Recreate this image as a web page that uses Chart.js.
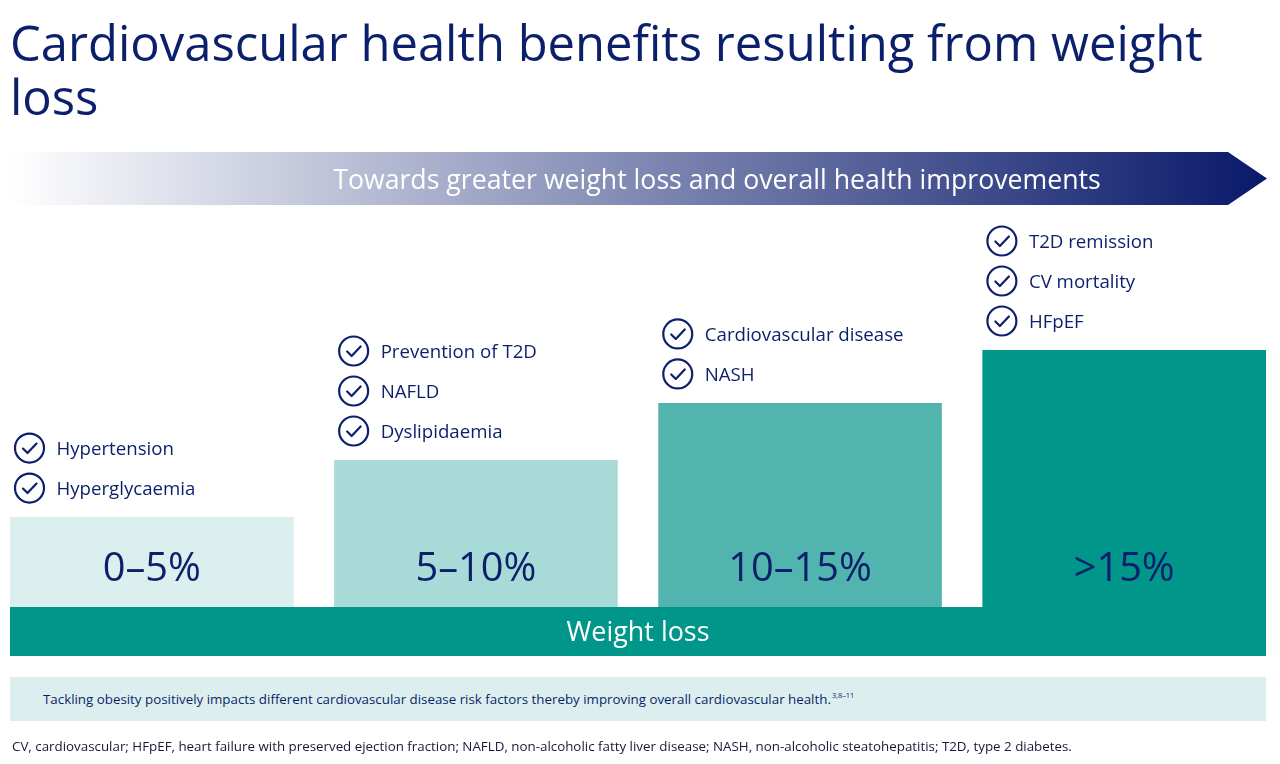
<!DOCTYPE html>
<html>
<head>
<meta charset="utf-8">
<script src="https://cdn.jsdelivr.net/npm/chart.js@4.4.0/dist/chart.umd.min.js"></script>
<style>
  html, body { margin: 0; padding: 0; background: #fff; }
  body { width: 1280px; height: 764px; position: relative; overflow: hidden; font-family: 'Open Sans', sans-serif; color: #0b1f6b; }
  #chart { position: absolute; left: 0; top: 0; }
  .line { position: absolute; margin: 0; white-space: nowrap; font-weight: 400; }
  .note { position: absolute; left: 10px; top: 677px; width: 1256px; height: 44px; background: #dcefee; }
  .note sup { font-size: 0.55em; vertical-align: 0.75em; line-height: 0; margin-left: 1px; }
  #foot { color: #17193b; }
</style>
</head>
<body>
<h1 class="line" id="title1"></h1>
<h1 class="line" id="title2"></h1>
<canvas id="chart" width="1280" height="764"></canvas>
<div class="note"><p class="line" id="note"></p></div>
<p class="line" id="foot"></p>
<script>
// Data
const categories = ['0–5%', '5–10%', '10–15%', '>15%'];
const barHeights = [35, 57.2, 79.4, 100];
const benefitsLow = ['Hypertension', 'Hyperglycaemia'];
const benefitsMid = ['Prevention of T2D', 'NAFLD', 'Dyslipidaemia'];
const benefitsHigh = ['Cardiovascular disease', 'NASH'];
const benefitsTop = ['T2D remission', 'CV mortality', 'HFpEF'];
const benefits = [benefitsLow, benefitsMid, benefitsHigh, benefitsTop];

const titleLines = ['Cardiovascular health benefits resulting from weight', 'loss'];
const arrowText = 'Towards greater weight loss and overall health improvements';
const axisText = 'Weight loss';
const noteText = 'Tackling obesity positively impacts different cardiovascular disease risk factors thereby improving overall cardiovascular health.';
const noteRefs = '3,8–11';
const footText = 'CV, cardiovascular; HFpEF, heart failure with preserved ejection fraction; NAFLD, non-alcoholic fatty liver disease; NASH, non-alcoholic steatohepatitis; T2D, type 2 diabetes.';

// Colours
const navy = '#0b1f6b';
const barColors = ['#daefee', '#a8dbd8', '#52b4ae', '#00968a'];
const bandColor = '#00968a';

const FONT = "'Open Sans', sans-serif";
const measureCtx = document.createElement('canvas').getContext('2d');

// font size that makes text span the given width
function fitSize(text, width) {
    measureCtx.font = '400 100px ' + FONT;
    return 100 * width / measureCtx.measureText(text).width;
}

// place an html line so its baseline lands on y
function placeLine(el, text, left, baseline, width) {
    const size = fitSize(text, width);
    const lh = Math.round(size * 1.2);
    el.style.fontSize = size.toFixed(2) + 'px';
    el.style.lineHeight = lh + 'px';
    el.style.left = left + 'px';
    el.style.top = (baseline - lh / 2 - 0.388 * size).toFixed(1) + 'px';
    return size;
}

const t1 = document.getElementById('title1');
const t2 = document.getElementById('title2');
t1.textContent = titleLines[0];
t2.textContent = titleLines[1];
const titleSize = placeLine(t1, titleLines[0], 10, 61, 1193);
t2.style.fontSize = titleSize.toFixed(2) + 'px';
t2.style.lineHeight = t1.style.lineHeight;
t2.style.left = '10px';
t2.style.top = (parseFloat(t1.style.top) + 54) + 'px';

const noteEl = document.getElementById('note');
noteEl.textContent = noteText;
const sup = document.createElement('sup');
sup.textContent = noteRefs;
noteEl.appendChild(sup);
placeLine(noteEl, noteText, 33, 704 - 677, 788);

const footEl = document.getElementById('foot');
footEl.textContent = footText;
placeLine(footEl, footText, 12, 751, 1060);

// Drawing of the arrow, the weight-loss band, labels and checklists
const infographic = {
    id: 'infographic',
    beforeDatasetsDraw(chart) {
        const { ctx, chartArea } = chart;
        ctx.save();

        // gradient arrow
        const aTop = 152, aBot = 205, aNeck = 1228, aTip = chartArea.right + 1;
        const grad = ctx.createLinearGradient(chartArea.left, 0, aTip, 0);
        grad.addColorStop(0, '#ffffff');
        grad.addColorStop(0.5, '#8089b3');
        grad.addColorStop(1, '#09196a');
        ctx.fillStyle = grad;
        ctx.beginPath();
        ctx.moveTo(chartArea.left, aTop);
        ctx.lineTo(aNeck, aTop);
        ctx.lineTo(aTip, (aTop + aBot) / 2);
        ctx.lineTo(aNeck, aBot);
        ctx.lineTo(chartArea.left, aBot);
        ctx.closePath();
        ctx.fill();

        ctx.fillStyle = '#ffffff';
        ctx.textAlign = 'center';
        ctx.textBaseline = 'alphabetic';
        ctx.font = '400 ' + fitSize(arrowText, 768).toFixed(2) + 'px ' + FONT;
        ctx.fillText(arrowText, 717, 189);

        // weight-loss band under the bars
        const bandH = 49;
        ctx.fillStyle = bandColor;
        ctx.fillRect(chartArea.left, chartArea.bottom, chartArea.right - chartArea.left, bandH);
        ctx.fillStyle = '#ffffff';
        ctx.font = '400 ' + fitSize(axisText, 143).toFixed(2) + 'px ' + FONT;
        ctx.fillText(axisText, (chartArea.left + chartArea.right) / 2, chartArea.bottom + 34);
        ctx.restore();
    },
    afterDatasetsDraw(chart) {
        const { ctx, chartArea } = chart;
        const meta = chart.getDatasetMeta(0);
        ctx.save();

        // percentage labels inside the bars
        ctx.fillStyle = navy;
        ctx.textAlign = 'center';
        ctx.textBaseline = 'alphabetic';
        ctx.font = '400 ' + fitSize(categories[1], 121).toFixed(2) + 'px ' + FONT;
        meta.data.forEach((bar, i) => {
            ctx.fillText(categories[i], bar.x, chartArea.bottom - 26);
        });

        // checklists above each bar
        const itemSize = fitSize('Cardiovascular disease', 199);
        ctx.font = '400 ' + itemSize.toFixed(2) + 'px ' + FONT;
        ctx.textAlign = 'left';
        ctx.strokeStyle = navy;
        ctx.lineWidth = 2.2;
        ctx.lineCap = 'round';
        ctx.lineJoin = 'round';
        meta.data.forEach((bar, i) => {
            const items = benefits[i];
            const cx = bar.x - bar.width / 2 + 19.5;
            items.forEach((label, j) => {
                const cy = bar.y - 29 - (items.length - 1 - j) * 40;
                ctx.beginPath();
                ctx.arc(cx, cy, 14.5, 0, Math.PI * 2);
                ctx.stroke();
                ctx.beginPath();
                ctx.moveTo(cx - 6.5, cy + 0.5);
                ctx.lineTo(cx - 2, cy + 5);
                ctx.lineTo(cx + 7, cy - 4.5);
                ctx.stroke();
                ctx.fillText(label, cx + 27, cy + 0.36 * itemSize);
            });
        });
        ctx.restore();
    }
};

new Chart(document.getElementById('chart'), {
    type: 'bar',
    data: {
        datasets: [{
            data: categories.map((c, i) => ({ x: i, y: barHeights[i] })),
            backgroundColor: barColors,
            borderWidth: 0,
            barPercentage: 1,
            categoryPercentage: 0.875
        }]
    },
    options: {
        responsive: false,
        animation: false,
        layout: { padding: { left: 10, right: 14, top: 350, bottom: 157 } },
        plugins: { legend: { display: false }, tooltip: { enabled: false } },
        scales: {
            x: {
                type: 'linear', min: -0.4375, max: 3.4375, offset: false, display: false,
                ticks: { stepSize: 1, includeBounds: false }
            },
            y: { min: 0, max: 100, display: false }
        }
    },
    plugins: [infographic]
});
</script>
</body>
</html>
